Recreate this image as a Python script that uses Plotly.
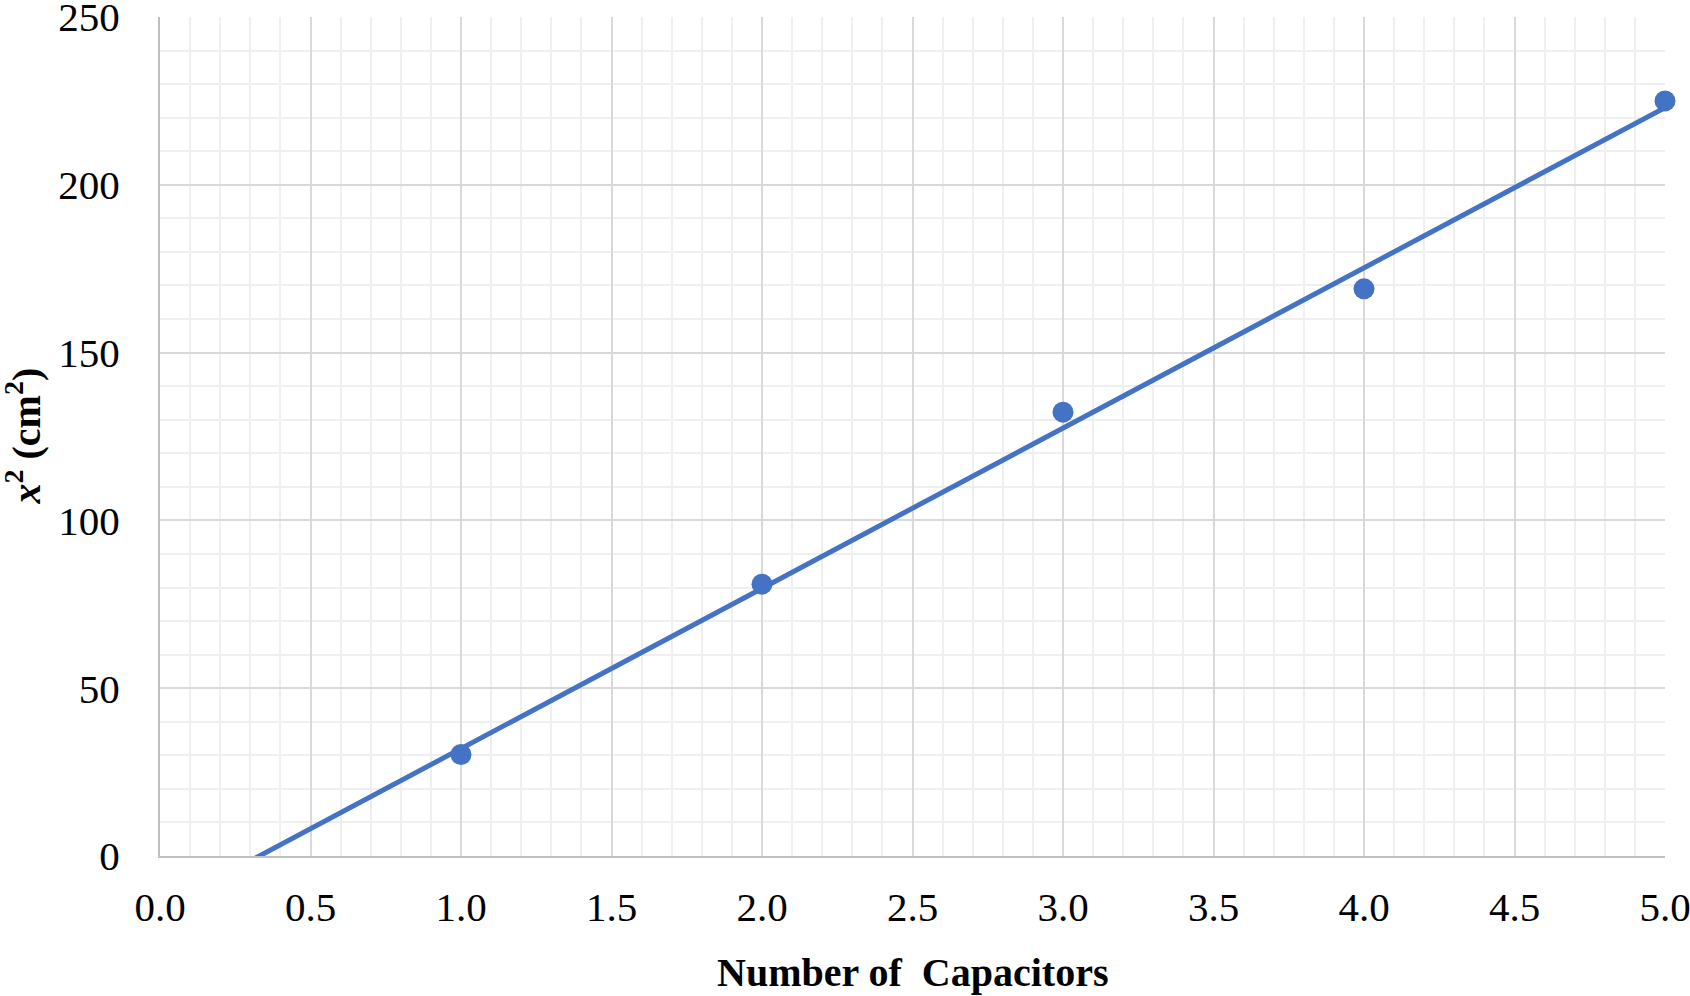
import numpy as np
import plotly.graph_objects as go

# Data
capacitors = [1, 2, 3, 4, 5]
x_squared = [30.25, 81, 132.25, 169, 225]

x_axis_range = [0, 5]
y_axis_range = [0, 250]

# Linear trendline (least squares), drawn across the x-axis range
slope, intercept = np.polyfit(capacitors, x_squared, 1)
trend_x = np.linspace(x_axis_range[0], x_axis_range[1], 2)
trend_y = slope * trend_x + intercept

BLUE = "#4472C4"
FONT = "Liberation Serif"

fig = go.Figure()
fig.add_trace(go.Scatter(
    x=trend_x, y=trend_y, mode="lines",
    line=dict(color=BLUE, width=5),
    hoverinfo="skip", showlegend=False,
))
fig.add_trace(go.Scatter(
    x=capacitors, y=x_squared, mode="markers",
    marker=dict(color=BLUE, size=21),
    cliponaxis=False, showlegend=False,
))

fig.update_layout(
    width=1690, height=996,
    margin=dict(l=160, r=25, t=17, b=140),
    paper_bgcolor="white", plot_bgcolor="white",
    font=dict(family=FONT, color="black", size=40),
    annotations=[
        dict(text="<b>Number of  Capacitors</b>", xref="paper", yref="paper",
             x=0.5, y=0, xanchor="center", yanchor="middle", yshift=-116,
             showarrow=False, font=dict(family=FONT, size=40, color="black")),
        dict(text="<b><i>x</i><sup>2</sup> (cm<sup>2</sup>)</b>", xref="paper", yref="paper",
             x=0, y=0.5, xanchor="center", yanchor="middle", xshift=-136,
             textangle=-90, showarrow=False,
             font=dict(family=FONT, size=40, color="black")),
    ],
)

fig.update_xaxes(
    range=x_axis_range, dtick=0.5, tick0=0, tickformat=".1f",
    showgrid=True, gridcolor="#d9d9d9", gridwidth=2,
    minor=dict(dtick=0.1, showgrid=True, gridcolor="#efefef", gridwidth=1.5),
    showline=True, linecolor="#bfbfbf", linewidth=2,
    zeroline=False, ticks="", ticklabelstandoff=14,
    ticklabeloverflow="allow",
    tickfont=dict(family=FONT, size=41, color="black"),
    automargin=False, fixedrange=True,
)
fig.update_yaxes(
    range=y_axis_range, dtick=50, tick0=0,
    showgrid=True, gridcolor="#d9d9d9", gridwidth=2,
    minor=dict(dtick=10, showgrid=True, gridcolor="#efefef", gridwidth=1.5),
    showline=True, linecolor="#bfbfbf", linewidth=2,
    zeroline=False, ticks="", ticklabelstandoff=30,
    ticklabeloverflow="allow",
    tickfont=dict(family=FONT, size=41, color="black"),
    automargin=False, fixedrange=True,
)

fig.write_html("out.html", config={"displayModeBar": False},
               post_script="document.body.style.margin='0';")
